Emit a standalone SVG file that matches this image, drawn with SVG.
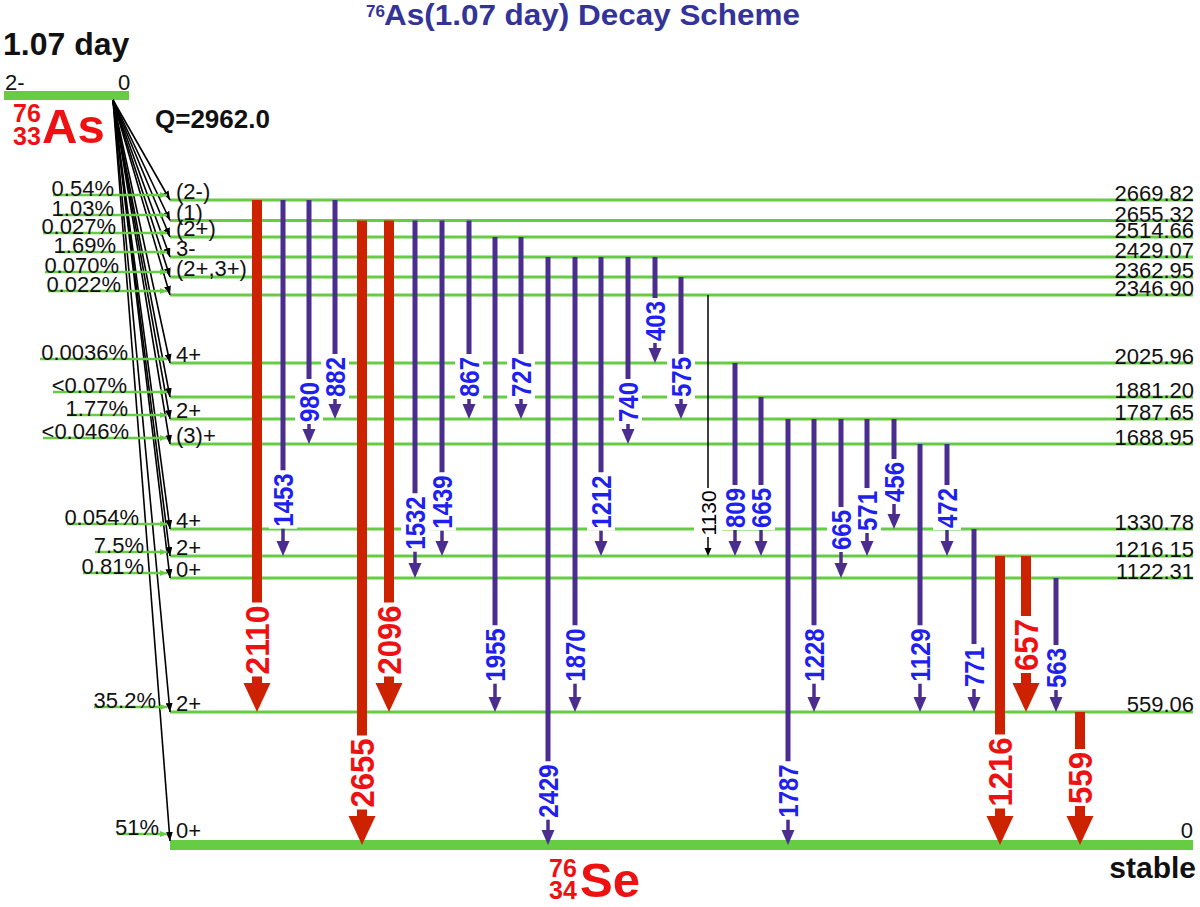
<svg xmlns="http://www.w3.org/2000/svg" width="1200" height="907" viewBox="0 0 1200 907">
<style>
text{font-family:"Liberation Sans",Arial,sans-serif}
.lv{stroke:#66cc44;stroke-width:3}
.en{font-size:22px;fill:#111;text-anchor:end}
.sp{font-size:22px;fill:#111}
.pc{font-size:22px;fill:#111;text-anchor:end}
.fd{stroke:#66cc44;stroke-width:2.5;marker-end:url(#ga)}
.bt{stroke:#000;stroke-width:1.6;marker-end:url(#ba)}
.bg{fill:#fff}
.p{stroke:#4b2d8f;stroke-width:5}
.ps{stroke:#4b2d8f;stroke-width:3.5}
.pf{fill:#4b2d8f}
.r{stroke:#cc2200;stroke-width:10}
.rf{fill:#cc2200}
.bl{font-size:27px;font-weight:bold;fill:#1f1ff0;text-anchor:middle}
.rl{font-size:34px;font-weight:bold;fill:#ee1111;text-anchor:middle}
.kl{font-size:21px;fill:#000;text-anchor:middle}
.nuc{font-weight:bold;fill:#ee1111}
</style>
<defs>
<marker id="ba" markerUnits="userSpaceOnUse" markerWidth="9" markerHeight="7" refX="9" refY="3.5" orient="auto"><path d="M0,0 L9,3.5 L0,7 z" fill="#000"/></marker>
<marker id="ga" markerUnits="userSpaceOnUse" markerWidth="7" markerHeight="6" refX="7" refY="3" orient="auto"><path d="M0,0 L7,3 L0,6 z" fill="#66cc44"/></marker>
</defs>
<rect width="1200" height="907" fill="#fff"/>

<g id="title">
<text x="366" y="17" font-size="17" font-weight="bold" fill="#333399">76</text>
<text x="384" y="25" font-size="29" font-weight="bold" fill="#333399" textLength="416" lengthAdjust="spacingAndGlyphs">As(1.07 day) Decay Scheme</text>
</g>

<g id="parent">
<text x="3" y="55" font-size="32" font-weight="bold" fill="#111">1.07 day</text>
<text x="5" y="90" class="sp" font-size="21">2-</text>
<text x="118" y="90" class="sp" font-size="21">0</text>
<rect x="4" y="91" width="125" height="9" fill="#66cc44"/>
<text class="nuc" x="13" y="122" font-size="25">76</text>
<text class="nuc" x="13" y="145" font-size="25">33</text>
<text class="nuc" x="42" y="143" font-size="49">As</text>
<text x="155" y="128" font-size="26" font-weight="bold" fill="#111">Q=2962.0</text>
</g>

<g id="levels">
<g id="lvl-2669"><line class="lv" x1="170" y1="200" x2="1193" y2="200"/><text class="en" x="1194" y="201">2669.82</text><text class="sp" x="176" y="199">(2-)</text></g>
<g id="lvl-2655"><line class="lv" x1="170" y1="220.5" x2="1193" y2="220.5"/><text class="en" x="1194" y="221.5">2655.32</text><text class="sp" x="176" y="219.5">(1)</text></g>
<g id="lvl-2514"><line class="lv" x1="170" y1="237" x2="1193" y2="237"/><text class="en" x="1194" y="238">2514.66</text><text class="sp" x="176" y="236">(2+)</text></g>
<g id="lvl-2429"><line class="lv" x1="170" y1="257" x2="1193" y2="257"/><text class="en" x="1194" y="258">2429.07</text><text class="sp" x="176" y="256">3-</text></g>
<g id="lvl-2362"><line class="lv" x1="170" y1="277" x2="1193" y2="277"/><text class="en" x="1194" y="278">2362.95</text><text class="sp" x="176" y="276">(2+,3+)</text></g>
<g id="lvl-2346"><line class="lv" x1="170" y1="295" x2="1193" y2="295"/><text class="en" x="1194" y="296">2346.90</text></g>
<g id="lvl-2025"><line class="lv" x1="170" y1="363" x2="1193" y2="363"/><text class="en" x="1194" y="364">2025.96</text><text class="sp" x="176" y="362">4+</text></g>
<g id="lvl-1881"><line class="lv" x1="170" y1="397" x2="1193" y2="397"/><text class="en" x="1194" y="398">1881.20</text></g>
<g id="lvl-1787"><line class="lv" x1="170" y1="419" x2="1193" y2="419"/><text class="en" x="1194" y="420">1787.65</text><text class="sp" x="176" y="418">2+</text></g>
<g id="lvl-1688"><line class="lv" x1="170" y1="444" x2="1193" y2="444"/><text class="en" x="1194" y="445">1688.95</text><text class="sp" x="176" y="443">(3)+</text></g>
<g id="lvl-1330"><line class="lv" x1="170" y1="529" x2="1193" y2="529"/><text class="en" x="1194" y="530">1330.78</text><text class="sp" x="176" y="528">4+</text></g>
<g id="lvl-1216"><line class="lv" x1="170" y1="556" x2="1193" y2="556"/><text class="en" x="1194" y="557">1216.15</text><text class="sp" x="176" y="555">2+</text></g>
<g id="lvl-1122"><line class="lv" x1="170" y1="578" x2="1193" y2="578"/><text class="en" x="1194" y="579">1122.31</text><text class="sp" x="176" y="577">0+</text></g>
<g id="lvl-559"><line class="lv" x1="170" y1="712" x2="1193" y2="712"/><text class="en" x="1194" y="712">559.06</text><text class="sp" x="176" y="711">2+</text></g>
<g id="lvl-0"><rect x="170" y="840" width="1023" height="10" fill="#66cc44"/><text class="en" x="1193" y="838">0</text><text class="sp" x="176" y="838">0+</text>
<text class="nuc" x="549" y="877" font-size="25">76</text>
<text class="nuc" x="549" y="899" font-size="25">34</text>
<text class="nuc" x="580" y="897" font-size="49">Se</text>
<text x="1196" y="878" font-size="30" font-weight="bold" fill="#111" text-anchor="end">stable</text>
</g>
</g>

<g id="connectors">
<g id="beta">
<line class="bt" x1="113" y1="100" x2="170" y2="200"/>
<line class="bt" x1="113" y1="100" x2="170" y2="220.5"/>
<line class="bt" x1="113" y1="100" x2="170" y2="237"/>
<line class="bt" x1="113" y1="100" x2="170" y2="257"/>
<line class="bt" x1="113" y1="100" x2="170" y2="277"/>
<line class="bt" x1="113" y1="100" x2="170" y2="295"/>
<line class="bt" x1="113" y1="100" x2="170" y2="363"/>
<line class="bt" x1="113" y1="100" x2="170" y2="397"/>
<line class="bt" x1="113" y1="100" x2="170" y2="419"/>
<line class="bt" x1="113" y1="100" x2="170" y2="444"/>
<line class="bt" x1="113" y1="100" x2="170" y2="529"/>
<line class="bt" x1="113" y1="100" x2="170" y2="556"/>
<line class="bt" x1="113" y1="100" x2="170" y2="578"/>
<line class="bt" x1="113" y1="100" x2="170" y2="712"/>
<line class="bt" x1="113" y1="100" x2="170" y2="841"/>
</g>
<g id="feeding">
<line class="fd" x1="53" y1="195" x2="167" y2="195"/><text class="pc" x="114" y="196">0.54%</text>
<line class="fd" x1="58" y1="215" x2="167" y2="215"/><text class="pc" x="114" y="216">1.03%</text>
<line class="fd" x1="43" y1="233" x2="167" y2="233"/><text class="pc" x="116" y="234">0.027%</text>
<line class="fd" x1="58" y1="252" x2="167" y2="252"/><text class="pc" x="116" y="253">1.69%</text>
<line class="fd" x1="45" y1="272" x2="167" y2="272"/><text class="pc" x="119" y="273">0.070%</text>
<line class="fd" x1="48" y1="291" x2="167" y2="291"/><text class="pc" x="121" y="292">0.022%</text>
<line class="fd" x1="40" y1="359" x2="167" y2="359"/><text class="pc" x="128" y="360">0.0036%</text>
<line class="fd" x1="53" y1="392" x2="167" y2="392"/><text class="pc" x="127" y="393">&lt;0.07%</text>
<line class="fd" x1="67" y1="415" x2="167" y2="415"/><text class="pc" x="128" y="416">1.77%</text>
<line class="fd" x1="43" y1="438" x2="167" y2="438"/><text class="pc" x="129" y="439">&lt;0.046%</text>
<line class="fd" x1="67" y1="524" x2="167" y2="524"/><text class="pc" x="139" y="525">0.054%</text>
<line class="fd" x1="95" y1="552" x2="167" y2="552"/><text class="pc" x="144" y="553">7.5%</text>
<line class="fd" x1="83" y1="573" x2="167" y2="573"/><text class="pc" x="144" y="574">0.81%</text>
<line class="fd" x1="94" y1="707" x2="167" y2="707"/><text class="pc" x="156" y="708">35.2%</text>
<line class="fd" x1="117" y1="834" x2="167" y2="834"/><text class="pc" x="159" y="835">51%</text>
</g>

<g id="gammas">
<!-- red -->
<g id="g2110"><rect class="bg" x="241" y="603.5" width="32" height="73"/><line class="r" x1="257" y1="200" x2="257" y2="602.5"/><line class="r" x1="257" y1="676.5" x2="257" y2="684"/><polygon class="rf" points="243.5,683 270.5,683 257,712"/><text class="rl" textLength="69" lengthAdjust="spacingAndGlyphs" transform="translate(269.2,640) rotate(-90)">2110</text></g>
<g id="g2655"><rect class="bg" x="346" y="736.5" width="32" height="73"/><line class="r" x1="362" y1="220.5" x2="362" y2="735.5"/><line class="r" x1="362" y1="809.5" x2="362" y2="817"/><polygon class="rf" points="348.5,816 375.5,816 362,845"/><text class="rl" textLength="69" lengthAdjust="spacingAndGlyphs" transform="translate(374.2,773) rotate(-90)">2655</text></g>
<g id="g2096"><rect class="bg" x="373" y="603.5" width="32" height="73"/><line class="r" x1="389" y1="220.5" x2="389" y2="602.5"/><line class="r" x1="389" y1="676.5" x2="389" y2="684"/><polygon class="rf" points="375.5,683 402.5,683 389,712"/><text class="rl" textLength="69" lengthAdjust="spacingAndGlyphs" transform="translate(401.2,640) rotate(-90)">2096</text></g>
<g id="g1216"><rect class="bg" x="984" y="735.5" width="32" height="73"/><line class="r" x1="1000" y1="556" x2="1000" y2="734.5"/><line class="r" x1="1000" y1="808.5" x2="1000" y2="817"/><polygon class="rf" points="986.5,816 1013.5,816 1000,845"/><text class="rl" textLength="69" lengthAdjust="spacingAndGlyphs" transform="translate(1012.2,772) rotate(-90)">1216</text></g>
<g id="g657"><rect class="bg" x="1010" y="617" width="32" height="56"/><line class="r" x1="1026" y1="556" x2="1026" y2="616"/><line class="r" x1="1026" y1="673" x2="1026" y2="684"/><polygon class="rf" points="1012.5,683 1039.5,683 1026,712"/><text class="rl" textLength="52" lengthAdjust="spacingAndGlyphs" transform="translate(1038.2,645) rotate(-90)">657</text></g>
<g id="g559"><rect class="bg" x="1064" y="750" width="32" height="56"/><line class="r" x1="1080" y1="712" x2="1080" y2="749"/><line class="r" x1="1080" y1="806" x2="1080" y2="817"/><polygon class="rf" points="1066.5,816 1093.5,816 1080,845"/><text class="rl" textLength="52" lengthAdjust="spacingAndGlyphs" transform="translate(1092.2,778) rotate(-90)">559</text></g>

<!-- purple -->
<g id="g1453"><rect class="bg" x="269" y="471.3" width="28" height="57.4"/><line class="p" x1="283" y1="200" x2="283" y2="470.3"/><line class="ps" x1="283" y1="528.7" x2="283" y2="543"/><polygon class="pf" points="276.5,541 289.5,541 283,556"/><text class="bl" textLength="53.4" lengthAdjust="spacingAndGlyphs" transform="translate(292.7,500) rotate(-90)">1453</text></g>
<g id="g980"><rect class="bg" x="295" y="380" width="28" height="44"/><line class="p" x1="309" y1="200" x2="309" y2="379"/><line class="ps" x1="309" y1="424" x2="309" y2="431"/><polygon class="pf" points="302.5,429 315.5,429 309,444"/><text class="bl" textLength="40" lengthAdjust="spacingAndGlyphs" transform="translate(318.7,402) rotate(-90)">980</text></g>
<g id="g882"><rect class="bg" x="321" y="355" width="28" height="44"/><line class="p" x1="335" y1="200" x2="335" y2="354"/><line class="ps" x1="335" y1="399" x2="335" y2="406"/><polygon class="pf" points="328.5,404 341.5,404 335,419"/><text class="bl" textLength="40" lengthAdjust="spacingAndGlyphs" transform="translate(344.7,377) rotate(-90)">882</text></g>
<g id="g1532"><rect class="bg" x="401" y="494.3" width="28" height="57.4"/><line class="p" x1="415" y1="220.5" x2="415" y2="493.3"/><line class="ps" x1="415" y1="551.7" x2="415" y2="565"/><polygon class="pf" points="408.5,563 421.5,563 415,578"/><text class="bl" textLength="53.4" lengthAdjust="spacingAndGlyphs" transform="translate(424.7,523) rotate(-90)">1532</text></g>
<g id="g1439"><rect class="bg" x="428" y="473.3" width="28" height="57.4"/><line class="p" x1="442" y1="220.5" x2="442" y2="472.3"/><line class="ps" x1="442" y1="530.7" x2="442" y2="543"/><polygon class="pf" points="435.5,541 448.5,541 442,556"/><text class="bl" textLength="53.4" lengthAdjust="spacingAndGlyphs" transform="translate(451.7,502) rotate(-90)">1439</text></g>
<g id="g867"><rect class="bg" x="455" y="355" width="28" height="44"/><line class="p" x1="469" y1="220.5" x2="469" y2="354"/><line class="ps" x1="469" y1="399" x2="469" y2="406"/><polygon class="pf" points="462.5,404 475.5,404 469,419"/><text class="bl" textLength="40" lengthAdjust="spacingAndGlyphs" transform="translate(478.7,377) rotate(-90)">867</text></g>
<g id="g1955"><rect class="bg" x="481" y="626.3" width="28" height="57.4"/><line class="p" x1="495" y1="237" x2="495" y2="625.3"/><line class="ps" x1="495" y1="683.7" x2="495" y2="699"/><polygon class="pf" points="488.5,697 501.5,697 495,712"/><text class="bl" textLength="53.4" lengthAdjust="spacingAndGlyphs" transform="translate(504.7,655) rotate(-90)">1955</text></g>
<g id="g727"><rect class="bg" x="507" y="355" width="28" height="44"/><line class="p" x1="521" y1="237" x2="521" y2="354"/><line class="ps" x1="521" y1="399" x2="521" y2="406"/><polygon class="pf" points="514.5,404 527.5,404 521,419"/><text class="bl" textLength="40" lengthAdjust="spacingAndGlyphs" transform="translate(530.7,377) rotate(-90)">727</text></g>
<g id="g2429"><rect class="bg" x="534" y="762.3" width="28" height="57.4"/><line class="p" x1="548" y1="257" x2="548" y2="761.3"/><line class="ps" x1="548" y1="819.7" x2="548" y2="832"/><polygon class="pf" points="541.5,830 554.5,830 548,845"/><text class="bl" textLength="53.4" lengthAdjust="spacingAndGlyphs" transform="translate(557.7,791) rotate(-90)">2429</text></g>
<g id="g1870"><rect class="bg" x="561" y="626.3" width="28" height="57.4"/><line class="p" x1="575" y1="257" x2="575" y2="625.3"/><line class="ps" x1="575" y1="683.7" x2="575" y2="699"/><polygon class="pf" points="568.5,697 581.5,697 575,712"/><text class="bl" textLength="53.4" lengthAdjust="spacingAndGlyphs" transform="translate(584.7,655) rotate(-90)">1870</text></g>
<g id="g1212"><rect class="bg" x="587" y="473.3" width="28" height="57.4"/><line class="p" x1="601" y1="257" x2="601" y2="472.3"/><line class="ps" x1="601" y1="530.7" x2="601" y2="543"/><polygon class="pf" points="594.5,541 607.5,541 601,556"/><text class="bl" textLength="53.4" lengthAdjust="spacingAndGlyphs" transform="translate(610.7,502) rotate(-90)">1212</text></g>
<g id="g740"><rect class="bg" x="614" y="380" width="28" height="44"/><line class="p" x1="628" y1="257" x2="628" y2="379"/><line class="ps" x1="628" y1="424" x2="628" y2="431"/><polygon class="pf" points="621.5,429 634.5,429 628,444"/><text class="bl" textLength="40" lengthAdjust="spacingAndGlyphs" transform="translate(637.7,402) rotate(-90)">740</text></g>
<g id="g403"><rect class="bg" x="641" y="299" width="28" height="44"/><line class="p" x1="655" y1="257" x2="655" y2="298"/><line class="ps" x1="655" y1="343" x2="655" y2="350"/><polygon class="pf" points="648.5,348 661.5,348 655,363"/><text class="bl" textLength="40" lengthAdjust="spacingAndGlyphs" transform="translate(664.7,321) rotate(-90)">403</text></g>
<g id="g575"><rect class="bg" x="667" y="355" width="28" height="44"/><line class="p" x1="681" y1="277" x2="681" y2="354"/><line class="ps" x1="681" y1="399" x2="681" y2="406"/><polygon class="pf" points="674.5,404 687.5,404 681,419"/><text class="bl" textLength="40" lengthAdjust="spacingAndGlyphs" transform="translate(690.7,377) rotate(-90)">575</text></g>
<g id="g1130"><rect class="bg" x="694" y="489" width="28" height="48"/><line stroke="#000" stroke-width="1.5" x1="708" y1="295" x2="708" y2="488"/><line stroke="#000" stroke-width="1.5" x1="708" y1="537" x2="708" y2="549"/><polygon fill="#000" points="704.5,548 711.5,548 708,556"/><text class="kl" transform="translate(715.5,513) rotate(-90)">1130</text></g>
<g id="g809"><rect class="bg" x="721" y="486" width="28" height="44"/><line class="p" x1="735" y1="363" x2="735" y2="485"/><line class="ps" x1="735" y1="530" x2="735" y2="543"/><polygon class="pf" points="728.5,541 741.5,541 735,556"/><text class="bl" textLength="40" lengthAdjust="spacingAndGlyphs" transform="translate(744.7,508) rotate(-90)">809</text></g>
<g id="g665a"><rect class="bg" x="747" y="486" width="28" height="44"/><line class="p" x1="761" y1="397" x2="761" y2="485"/><line class="ps" x1="761" y1="530" x2="761" y2="543"/><polygon class="pf" points="754.5,541 767.5,541 761,556"/><text class="bl" textLength="40" lengthAdjust="spacingAndGlyphs" transform="translate(770.7,508) rotate(-90)">665</text></g>
<g id="g1787"><rect class="bg" x="774" y="762.3" width="28" height="57.4"/><line class="p" x1="788" y1="419" x2="788" y2="761.3"/><line class="ps" x1="788" y1="819.7" x2="788" y2="832"/><polygon class="pf" points="781.5,830 794.5,830 788,845"/><text class="bl" textLength="53.4" lengthAdjust="spacingAndGlyphs" transform="translate(797.7,791) rotate(-90)">1787</text></g>
<g id="g1228"><rect class="bg" x="800" y="626.3" width="28" height="57.4"/><line class="p" x1="814" y1="419" x2="814" y2="625.3"/><line class="ps" x1="814" y1="683.7" x2="814" y2="699"/><polygon class="pf" points="807.5,697 820.5,697 814,712"/><text class="bl" textLength="53.4" lengthAdjust="spacingAndGlyphs" transform="translate(823.7,655) rotate(-90)">1228</text></g>
<g id="g665b"><rect class="bg" x="827" y="508" width="28" height="44"/><line class="p" x1="841" y1="419" x2="841" y2="507"/><line class="ps" x1="841" y1="552" x2="841" y2="565"/><polygon class="pf" points="834.5,563 847.5,563 841,578"/><text class="bl" textLength="40" lengthAdjust="spacingAndGlyphs" transform="translate(850.7,530) rotate(-90)">665</text></g>
<g id="g571"><rect class="bg" x="853" y="489" width="28" height="44"/><line class="p" x1="867" y1="419" x2="867" y2="488"/><line class="ps" x1="867" y1="533" x2="867" y2="543"/><polygon class="pf" points="860.5,541 873.5,541 867,556"/><text class="bl" textLength="40" lengthAdjust="spacingAndGlyphs" transform="translate(876.7,511) rotate(-90)">571</text></g>
<g id="g456"><rect class="bg" x="880" y="460" width="28" height="44"/><line class="p" x1="894" y1="419" x2="894" y2="459"/><line class="ps" x1="894" y1="504" x2="894" y2="516"/><polygon class="pf" points="887.5,514 900.5,514 894,529"/><text class="bl" textLength="40" lengthAdjust="spacingAndGlyphs" transform="translate(903.7,482) rotate(-90)">456</text></g>
<g id="g1129"><rect class="bg" x="906" y="626.3" width="28" height="57.4"/><line class="p" x1="920" y1="444" x2="920" y2="625.3"/><line class="ps" x1="920" y1="683.7" x2="920" y2="699"/><polygon class="pf" points="913.5,697 926.5,697 920,712"/><text class="bl" textLength="53.4" lengthAdjust="spacingAndGlyphs" transform="translate(929.7,655) rotate(-90)">1129</text></g>
<g id="g472"><rect class="bg" x="933" y="486" width="28" height="44"/><line class="p" x1="947" y1="444" x2="947" y2="485"/><line class="ps" x1="947" y1="530" x2="947" y2="543"/><polygon class="pf" points="940.5,541 953.5,541 947,556"/><text class="bl" textLength="40" lengthAdjust="spacingAndGlyphs" transform="translate(956.7,508) rotate(-90)">472</text></g>
<g id="g771"><rect class="bg" x="960" y="645" width="28" height="44"/><line class="p" x1="974" y1="529" x2="974" y2="644"/><line class="ps" x1="974" y1="689" x2="974" y2="699"/><polygon class="pf" points="967.5,697 980.5,697 974,712"/><text class="bl" textLength="40" lengthAdjust="spacingAndGlyphs" transform="translate(983.7,667) rotate(-90)">771</text></g>
<g id="g563"><rect class="bg" x="1042" y="646" width="28" height="44"/><line class="p" x1="1056" y1="578" x2="1056" y2="645"/><line class="ps" x1="1056" y1="690" x2="1056" y2="699"/><polygon class="pf" points="1049.5,697 1062.5,697 1056,712"/><text class="bl" textLength="40" lengthAdjust="spacingAndGlyphs" transform="translate(1065.7,668) rotate(-90)">563</text></g>
</g>
</g>
</svg>
